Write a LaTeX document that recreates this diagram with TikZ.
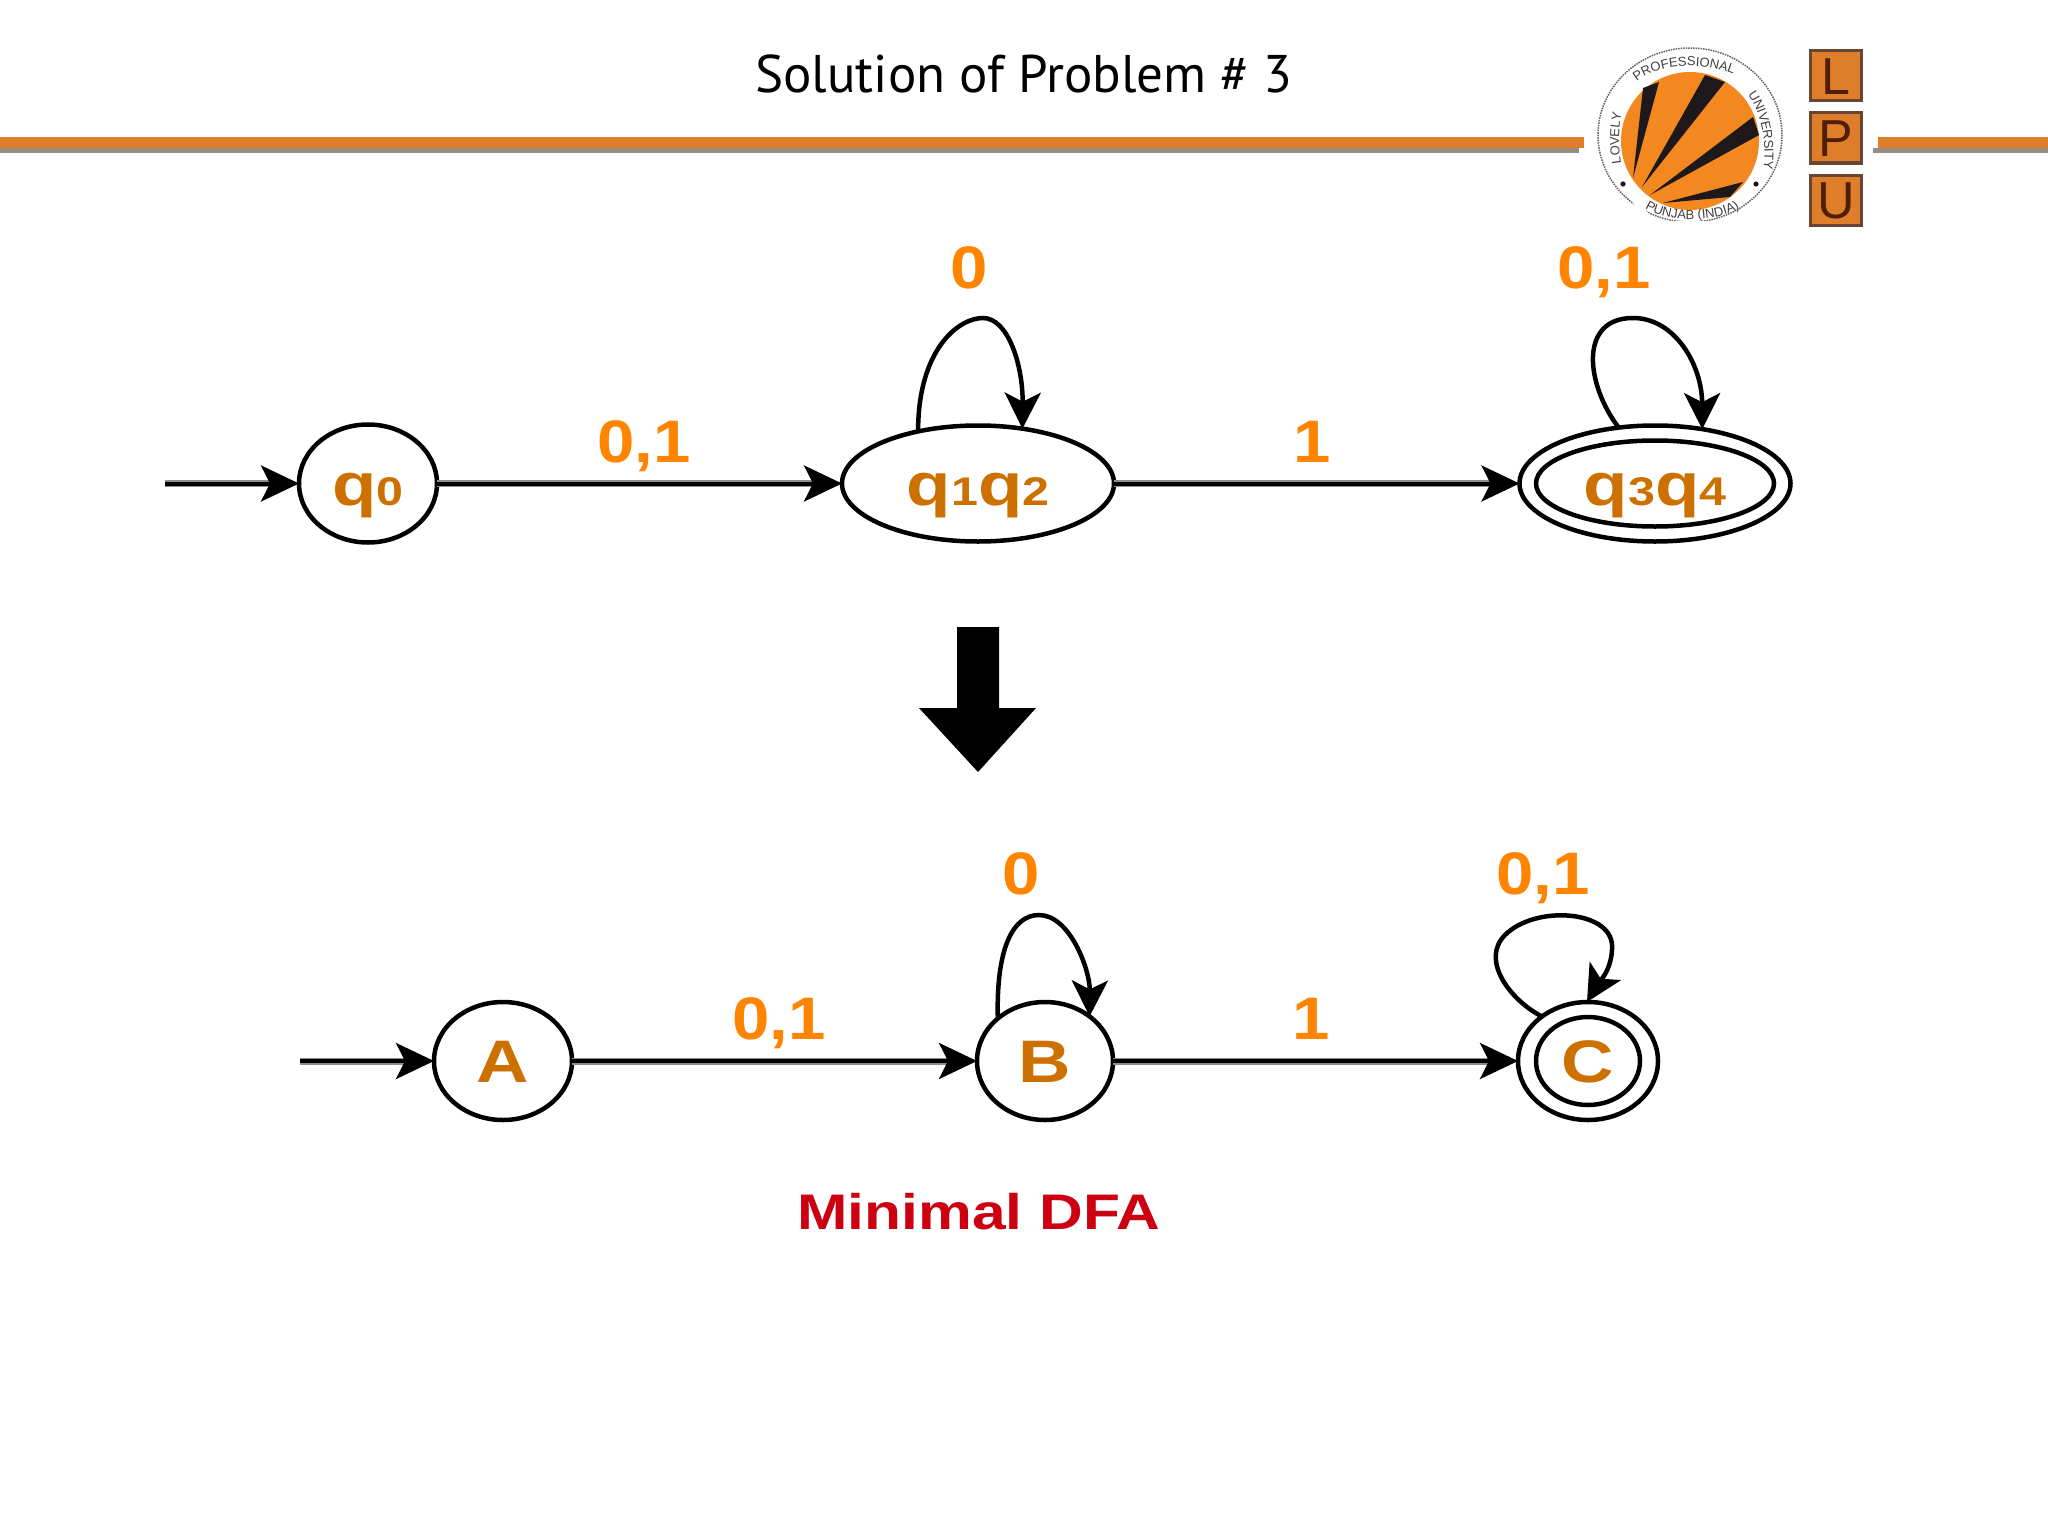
\documentclass[tikz,border=0pt]{standalone}
\usepackage{fontspec}
\setmainfont{Liberation Sans}
\newfontfamily\titlefont{PT Sans}
\newfontfamily\statefont[FakeStretch=1.21]{Liberation Sans}
\newfontfamily\edgefont[FakeStretch=1.12]{Liberation Sans}
\usetikzlibrary{arrows.meta,shapes.geometric,decorations.text}
\definecolor{lpuorange}{RGB}{222,125,42}
\definecolor{lpugray}{RGB}{150,140,130}
\definecolor{sealorange}{RGB}{243,135,32}
\definecolor{sealdark}{RGB}{30,24,26}
\definecolor{labelorange}{RGB}{255,133,0}
\definecolor{statetext}{RGB}{204,112,0}
\definecolor{minred}{RGB}{204,0,16}
\definecolor{boxedge}{RGB}{105,70,50}
\definecolor{lettercol}{RGB}{80,30,5}
\newcommand\sm[1]{{\fontsize{40}{40}\selectfont #1}}
\newcommand\sealfont{\fontsize{13}{13}\selectfont\color{black!75}}
\tikzset{
  x=1pt,y=-1pt,
  statenode/.style={shape=ellipse,draw=black,line width=4.5pt,inner sep=0pt,outer sep=0pt,
    text=statetext,font=\statefont\fontsize{60}{60}\selectfont\bfseries,align=center,text height=44pt,text depth=0pt},
  ringnode/.style={shape=ellipse,draw=black,line width=4.5pt,inner sep=0pt,outer sep=0pt},
  edgelabel/.style={anchor=base,inner sep=0pt,text=labelorange,font=\edgefont\fontsize{60}{60}\selectfont\bfseries},
  trans/.style={draw=black,line width=4pt,-{Stealth[length=38pt,width=36pt,inset=9pt]},
    preaction={draw=black!45,line width=7pt,-,shorten >=12pt}},
  loopline/.style={draw=black,line width=4.5pt,-{Stealth[length=36pt,width=36pt,inset=9pt]}},
  lpubox/.style={draw=boxedge,line width=3pt,fill=lpuorange,minimum width=51pt,minimum height=50pt,inner sep=0pt,
    text=lettercol,font=\fontsize{52}{52}\selectfont,text height=37pt,text depth=0pt},
  sealtext/.style={postaction={decorate,decoration={text along path,text align=center,text={#1}}}},
}
\begin{document}
\begin{tikzpicture}
\useasboundingbox (0,0) rectangle (2048,1536);
\fill[white] (0,0) rectangle (2048,1536);
% header bars
\fill[lpugray] (0,148) rectangle (1579,153);
\fill[lpuorange] (0,137) rectangle (1584,148);
\fill[lpugray] (1873,148) rectangle (2048,153);
\fill[lpuorange] (1878,137) rectangle (2048,148);
% title
\node[anchor=base,inner sep=0pt,font=\titlefont\fontsize{53}{53}\selectfont] (title) at (1024,93) {Solution of Problem \# 3};
% seal
\begin{scope}
\clip (1590,40) rectangle (1790,220);
\draw[lpugray!70!black,line width=1.5pt,densely dotted] (1690,135) ellipse[x radius=92,y radius=87];
\fill[sealorange] (1690,141) circle[radius=69];
\fill[sealdark] (1633,178) -- (1643,88) -- (1659,82) -- cycle;
\fill[sealdark] (1642,187) -- (1705,75) -- (1725,82) -- cycle;
\fill[sealdark] (1650,195) -- (1753,117) -- (1759,135) -- cycle;
\fill[sealdark] (1663,203) -- (1743,182) -- (1730,197) -- cycle;
\fill[white] (1630,195) -- (1655,220) -- (1640,220) -- cycle;
\fill[sealdark] (1623,184) circle[radius=2.6];
\fill[sealdark] (1756,184) circle[radius=2.6];
\path[sealtext={|\sealfont|LOVELY}] (1622,168) .. controls (1618,150) and (1618,125) .. (1623,108);
\path[sealtext={|\sealfont|PROFESSIONAL}] (1630,88) .. controls (1650,64) and (1700,58) .. (1742,78);
\path[sealtext={|\sealfont|UNIVERSITY}] (1746,92) .. controls (1760,110) and (1768,140) .. (1763,172);
\path[sealtext={|\sealfont|PUNJAB (INDIA)}] (1640,204) .. controls (1660,224) and (1720,224) .. (1745,205);
\end{scope}
% LPU boxes
\node[lpubox] (boxL) at (1836,76) {L};
\node[lpubox] (boxP) at (1836,138) {P};
\node[lpubox] (boxU) at (1836,200) {U};
% top automaton
\node[statenode,minimum width=138pt,minimum height=118pt] (q0) at (368,483.5) {q\sm{0}};
\node[statenode,minimum width=272pt,minimum height=116pt] (q12) at (978,483.5) {q\sm{1}q\sm{2}};
\node[ringnode,minimum width=271pt,minimum height=116pt] (q34o) at (1655,483.5) {};
\node[statenode,minimum width=238pt,minimum height=86pt] (q34) at (1655,483.5) {q\sm{3}q\sm{4}};
\coordinate (startq) at (165,483.5);
\draw[trans] (startq) -- (q0);
\draw[trans] (q0) -- (q12);
\draw[trans] (q12) -- (q34o);
\draw[loopline] (q12.139) .. controls (918,350) and (958,318) .. (983,318)
   .. controls (1008,318) and (1023,365) .. (q12.51);
\draw[loopline] (q34o.123) .. controls (1586,385) and (1578,318) .. (1633,318)
   .. controls (1675,318) and (1702,365) .. (q34o.49);
\node[edgelabel] (l01a) at (644,462) {0,1};
\node[edgelabel] (l0a) at (969,288) {0};
\node[edgelabel] (l1a) at (1312,462) {1};
\node[edgelabel] (l01b) at (1604,288) {0,1};
% big arrow
\fill[black] (957,627) -- (999,627) -- (999,708) -- (1036,708) -- (978,772) -- (919,708) -- (957,708) -- cycle;
% bottom automaton
\node[statenode,minimum width=138pt,minimum height=118pt,text height=42pt] (A) at (503,1061) {A};
\node[statenode,minimum width=136pt,minimum height=118pt,text height=42pt] (B) at (1045,1061) {B};
\node[ringnode,minimum width=140pt,minimum height=118pt] (Co) at (1588,1061) {};
\node[statenode,minimum width=104pt,minimum height=88pt,text height=42pt] (C) at (1588,1061) {C};
\coordinate (startA) at (300,1061);
\draw[trans] (startA) -- (A);
\draw[trans] (A) -- (B);
\draw[trans] (B) -- (Co);
\draw[loopline] (B.138) .. controls (996,950) and (1012,915) .. (1039,915)
   .. controls (1070,915) and (1090,970) .. (B.45);
\draw[loopline] (Co.136) .. controls (1510,1000) and (1480,960) .. (1505,935)
   .. controls (1535,905) and (1610,910) .. (1612,945)
   .. controls (1613,970) and (1597,985) .. (Co.91);
\node[edgelabel] (l01c) at (779,1039) {0,1};
\node[edgelabel] (l0c) at (1021,894) {0};
\node[edgelabel] (l1c) at (1311,1039) {1};
\node[edgelabel] (l01d) at (1543,894) {0,1};
\node[anchor=base,inner sep=0pt,text=minred,font=\statefont\fontsize{50}{50}\selectfont\bfseries] (min) at (979,1229) {Minimal DFA};
\end{tikzpicture}
\end{document}
